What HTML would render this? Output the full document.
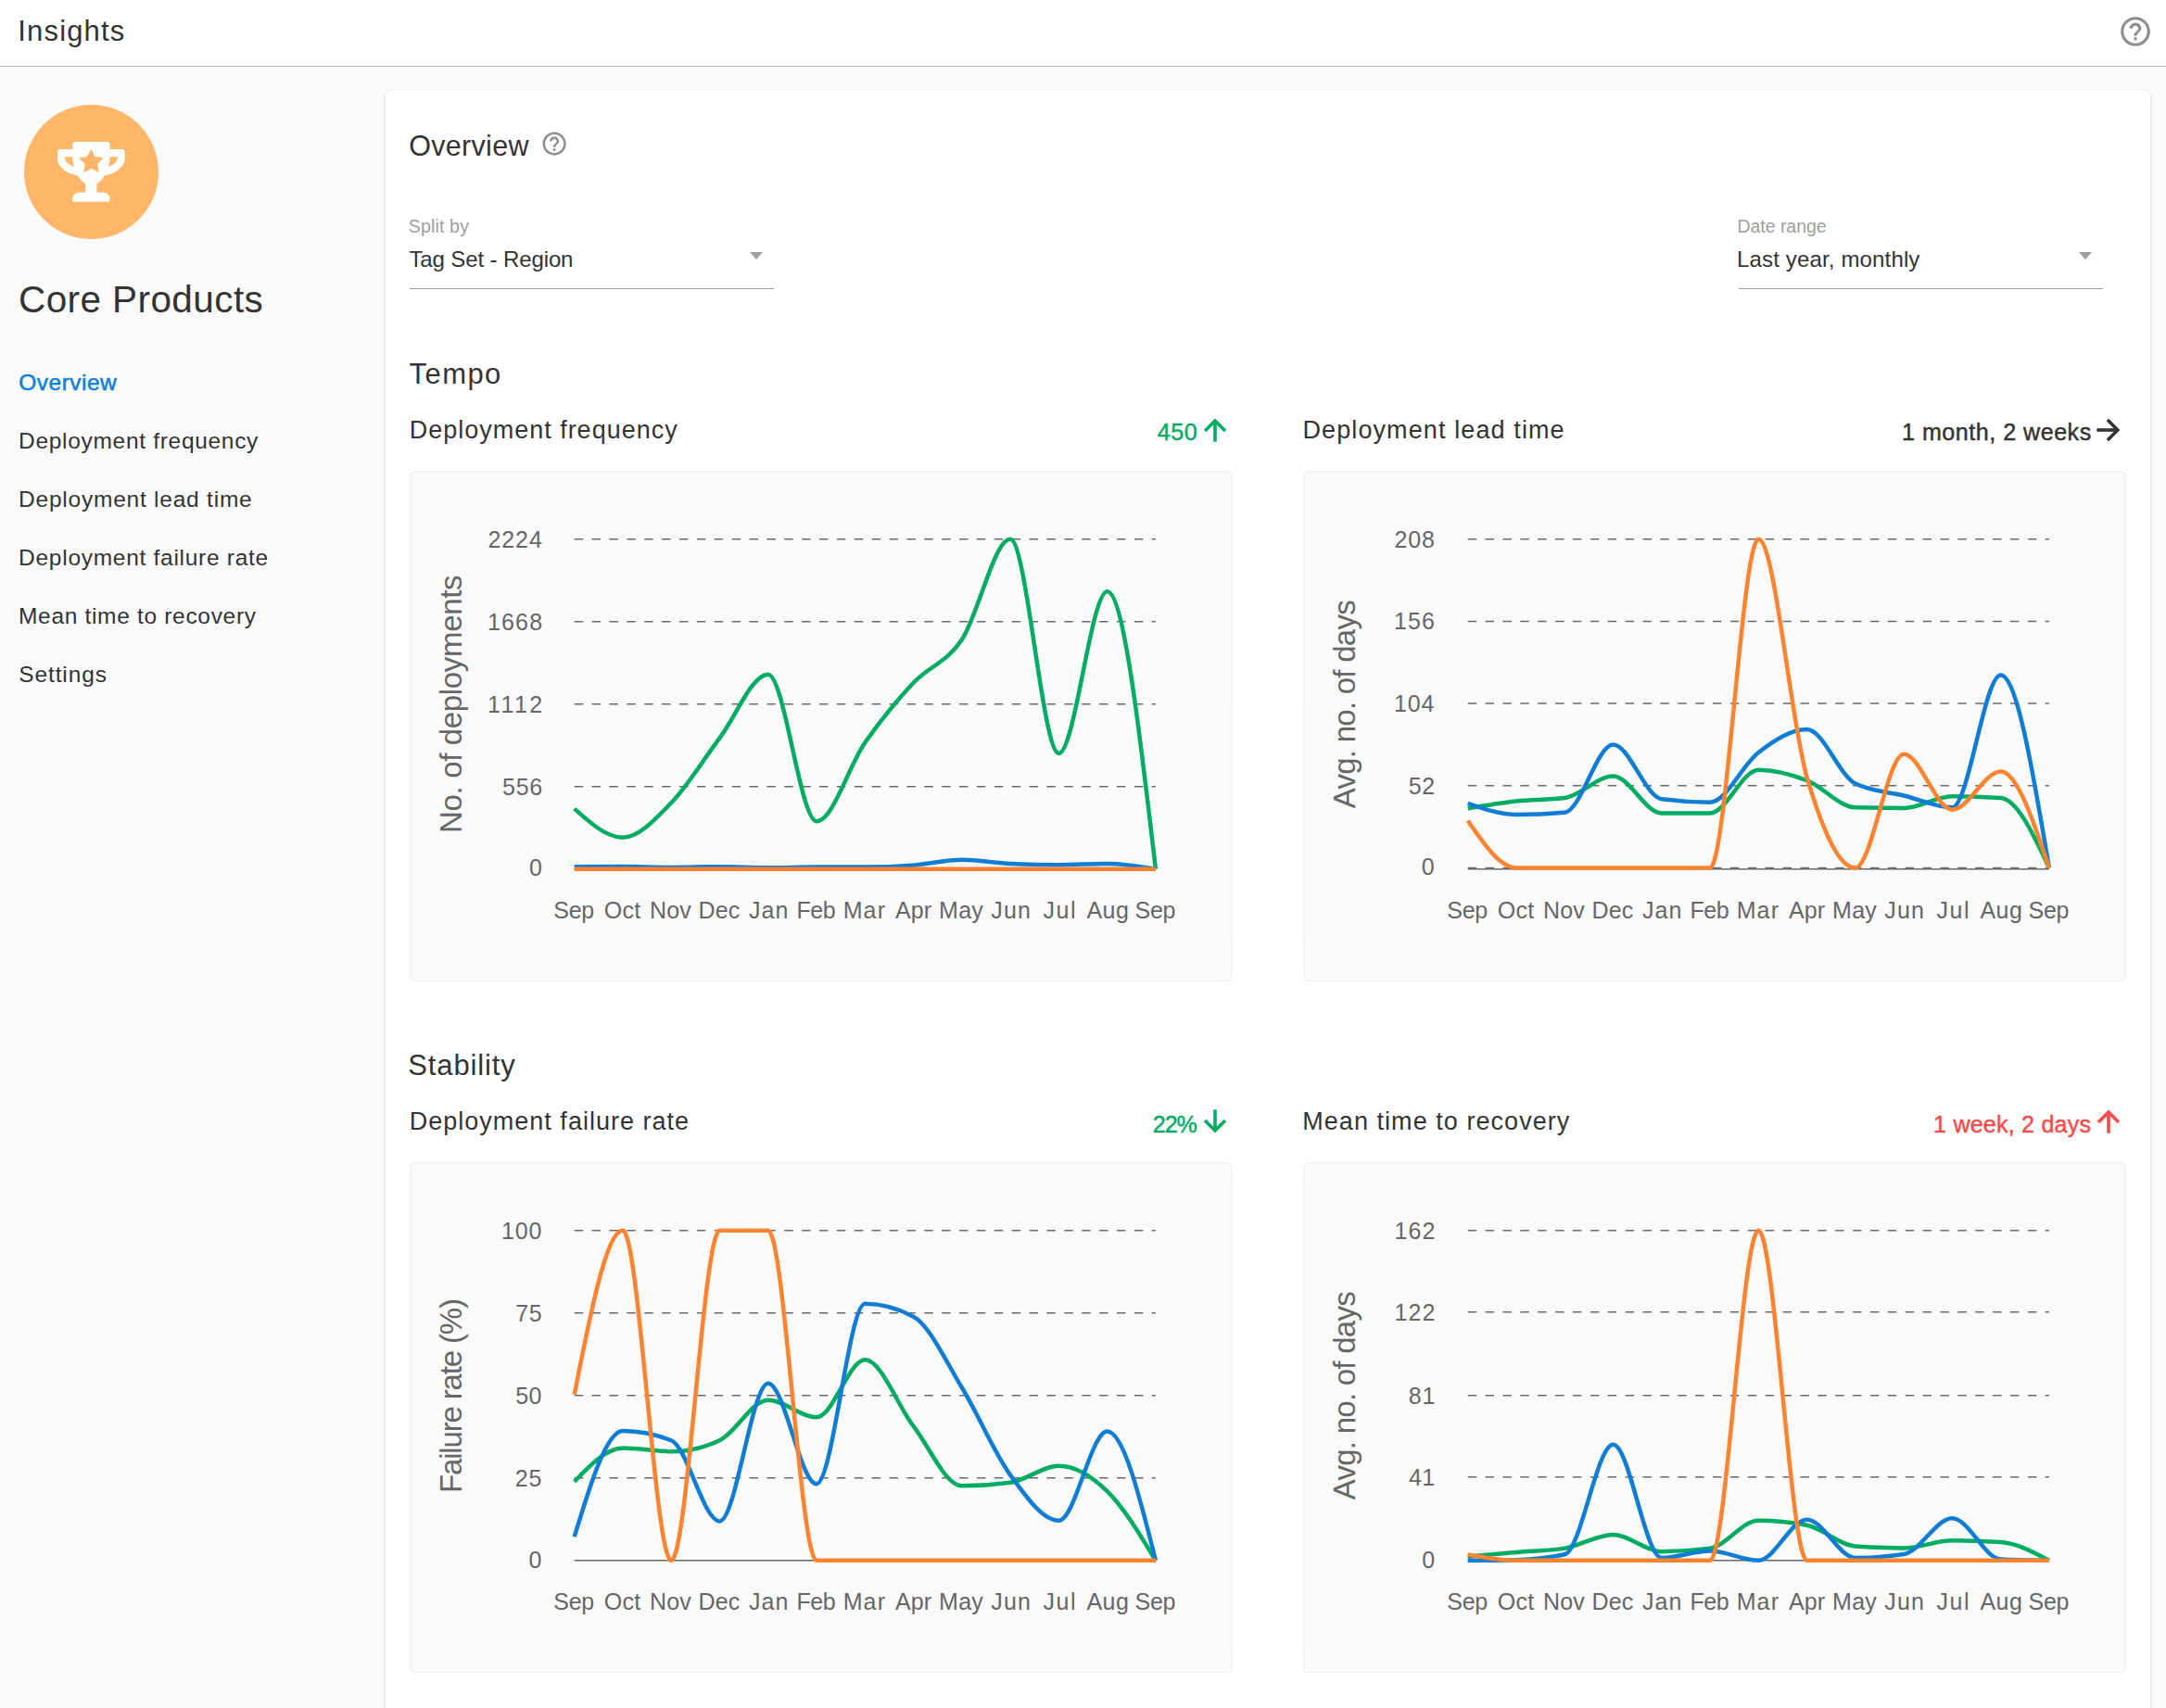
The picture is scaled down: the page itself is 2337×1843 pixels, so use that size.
<!DOCTYPE html>
<html lang="en">
<head>
<meta charset="utf-8">
<title>Insights - Core Products</title>
<style>

html,body{margin:0;padding:0;}
body{width:2337px;height:1843px;overflow:hidden;background:#fafafa;font-family:"Liberation Sans", sans-serif;position:relative;color:#333;}
.abs{position:absolute;}
.t{position:absolute;white-space:nowrap;margin:0;padding:0;font-weight:400;display:block;}
.header{position:absolute;left:0;top:0;width:2337px;height:71px;background:#fff;border-bottom:1.5px solid #bcbcbc;}
.avatar{position:absolute;left:25.7px;top:112.9px;width:145px;height:145px;border-radius:50%;background:#ffb668;}
.panel{position:absolute;left:416px;top:97px;width:1904px;height:1800px;background:#fff;border-radius:6px;
  box-shadow:0 1.5px 4.5px rgba(0,0,0,.13),0 1.5px 1.5px rgba(0,0,0,.07);}
.card{position:absolute;width:888px;height:551px;box-sizing:border-box;background:#fafafa;border-radius:6px;
  box-shadow:inset 0 0 0 1.5px #f1f1f1;}
.card svg.chart{position:absolute;left:0;top:0;}
.uline{position:absolute;height:1px;background:#9c9c9c;}
.caret{position:absolute;width:0;height:0;border-left:7.5px solid transparent;border-right:7.5px solid transparent;border-top:8px solid #9e9e9e;}
a.t{text-decoration:none;}

</style>
</head>
<body>
<header>
<div class="header"></div>
<h1 class="t" id="h-title" style="left:19.27px;top:18.25px;font-size:31px;line-height:31px;color:#333;letter-spacing:1.17px;">Insights</h1>
<svg class="abs" style="left:2284.98px;top:14.78px" width="38.04" height="38.04" viewBox="0 0 24 24"><path fill="#8e8e8e" d="M11 18h2v-2h-2v2zm1-16C6.48 2 2 6.48 2 12s4.48 10 10 10 10-4.48 10-10S17.52 2 12 2zm0 18c-4.41 0-8-3.59-8-8s3.59-8 8-8 8 3.59 8 8-3.59 8-8 8zm0-14c-2.21 0-4 1.79-4 4h2c0-1.1.9-2 2-2s2 .9 2 2c0 2-3 1.75-3 5h2c0-2.25 3-2.5 3-5 0-2.21-1.79-4-4-4z"/></svg>
</header>
<aside>
<div class="avatar"></div>
<svg class="abs" style="left:62.1px;top:152.9px" width="72.7" height="64.7" viewBox="0 0 576 512"><path fill="#fff" d="M552 64H448V24c0-13.3-10.7-24-24-24H152c-13.3 0-24 10.7-24 24v40H24C10.7 64 0 74.7 0 88v56c0 35.700 22.500 72.400 61.900 100.700 31.500 22.700 69.800 37.100 110 41.700C203.300 338.500 240 360 240 360v72h-48c-35.300 0-64 20.700-64 56v12c0 6.600 5.400 12 12 12h296c6.600 0 12-5.400 12-12v-12c0-35.300-28.700-56-64-56h-48v-72s36.700-21.500 68.100-73.600c40.300-4.600 78.600-19 110-41.700c39.300-28.300 61.900-65 61.900-100.700V88c0-13.300-10.700-24-24-24zM99.300 192.800C74.900 175.200 64 155.600 64 144v-16h64.200c1 32.600 5.800 61.200 12.800 86.200-15.100-5.200-29.200-12.400-41.700-21.400zM512 144c0 16.100-17.700 36.100-35.300 48.800-12.500 9-26.700 16.200-41.800 21.400c7-25 11.800-53.600 12.800-86.200H512v16z"/><polygon fill="#ffb668" stroke="#ffb668" stroke-width="10" stroke-linejoin="round" points="288,72 317.98,130.74 383.11,141.1 336.5,187.76 346.78,252.9 288,223 229.22,252.9 239.5,187.76 192.89,141.1 258.02,130.74"/></svg>
<h2 class="t" id="s-title" style="left:20.02px;top:303.21px;font-size:40.5px;line-height:40.5px;color:#333;letter-spacing:0.41px;">Core Products</h2>
<nav>
<a class="t" id="n0" href="#overview" style="left:20.31px;top:400.96px;font-size:24.5px;line-height:24.5px;color:#0d80d8;letter-spacing:0.47px;-webkit-text-stroke:0.55px #0d80d8;">Overview</a>
<a class="t" id="n1" href="#frequency" style="left:20.11px;top:464.26px;font-size:24.5px;line-height:24.5px;color:#333;letter-spacing:0.69px;">Deployment frequency</a>
<a class="t" id="n2" href="#leadtime" style="left:20.11px;top:527.26px;font-size:24.5px;line-height:24.5px;color:#333;letter-spacing:0.77px;">Deployment lead time</a>
<a class="t" id="n3" href="#failurerate" style="left:20.11px;top:590.16px;font-size:24.5px;line-height:24.5px;color:#333;letter-spacing:0.72px;">Deployment failure rate</a>
<a class="t" id="n4" href="#recovery" style="left:20.01px;top:653.16px;font-size:24.5px;line-height:24.5px;color:#333;letter-spacing:0.68px;">Mean time to recovery</a>
<a class="t" id="n5" href="#settings" style="left:20.21px;top:715.76px;font-size:24.5px;line-height:24.5px;color:#333;letter-spacing:0.89px;">Settings</a>
</nav>
</aside>
<main>
<div class="panel"></div>
<h2 class="t" id="p-title" style="left:441.22px;top:141.68px;font-size:30.5px;line-height:30.5px;color:#333;letter-spacing:0.3px;">Overview</h2>
<svg class="abs" style="left:582.88px;top:139.58px" width="30.24" height="30.24" viewBox="0 0 24 24"><path fill="#8e8e8e" d="M11 18h2v-2h-2v2zm1-16C6.48 2 2 6.48 2 12s4.48 10 10 10 10-4.48 10-10S17.52 2 12 2zm0 18c-4.41 0-8-3.59-8-8s3.59-8 8-8 8 3.59 8 8-3.59 8-8 8zm0-14c-2.21 0-4 1.79-4 4h2c0-1.1.9-2 2-2s2 .9 2 2c0 2-3 1.75-3 5h2c0-2.25 3-2.5 3-5 0-2.21-1.79-4-4-4z"/></svg>
<div class="select">
<label class="t" id="l-split" style="left:440.75px;top:234.89px;font-size:19.5px;line-height:19.5px;color:#9e9e9e;letter-spacing:0.17px;">Split by</label>
<div class="t" id="v-split" style="left:441.49px;top:268.18px;font-size:24px;line-height:24px;color:#333;letter-spacing:-0.12px;">Tag Set - Region</div>
<div class="caret" style="left:809px;top:271.8px"></div>
<div class="uline" style="left:442px;top:311px;width:393px"></div>
</div>
<div class="select">
<label class="t" id="l-date" style="left:1874.5px;top:234.92px;font-size:19.5px;line-height:19.5px;color:#9e9e9e;letter-spacing:-0.04px;">Date range</label>
<div class="t" id="v-date" style="left:1874.06px;top:268.18px;font-size:24px;line-height:24px;color:#333;letter-spacing:0.15px;">Last year, monthly</div>
<div class="caret" style="left:2243.3px;top:271.8px"></div>
<div class="uline" style="left:1876px;top:311px;width:393px"></div>
</div>
<section id="tempo">
<h3 class="t" id="sec1" style="left:441.56px;top:388.25px;font-size:31px;line-height:31px;color:#333;letter-spacing:1.43px;">Tempo</h3>
<article>
<h4 class="t" id="ct1" style="left:441.7px;top:451.24px;font-size:27px;line-height:27px;color:#333;letter-spacing:0.99px;">Deployment frequency</h4>
<span class="t" id="st1" style="left:1248.85px;top:454.25px;font-size:25.1px;line-height:25.1px;color:#00ab62;letter-spacing:0.46px;-webkit-text-stroke:0.45px #00ab62;">450</span>
<svg class="abs" style="left:1291px;top:444.2px" width="40" height="40" viewBox="-20 -20 40 40"><g transform="rotate(0)" fill="none" stroke="#00ab62" stroke-width="3.6" stroke-linejoin="miter"><path d="M0,12.7V-9.9"/><path d="M-11,1.1L0,-9.9L11,1.1"/></g></svg>
<div class="card" style="left:442px;top:508px"><svg class="chart" width="888" height="551" viewBox="0 0 888 551" font-family='&quot;Liberation Sans&quot;, sans-serif'>
<g stroke="#6a6a6a" stroke-width="1.5" stroke-dasharray="9.44 9.44" fill="none">
<line x1="177.7" y1="340.8" x2="804.9" y2="340.8"/>
<line x1="177.7" y1="251.8" x2="804.9" y2="251.8"/>
<line x1="177.7" y1="162.8" x2="804.9" y2="162.8"/>
<line x1="177.7" y1="73.8" x2="804.9" y2="73.8"/>
</g>
<line x1="177.7" y1="429.8" x2="804.9" y2="429.8" stroke="#686868" stroke-width="1.6"/>
<text id="c1-y0" x="142.99" y="437.4" font-size="25" text-anchor="end" fill="#666666">0</text>
<text id="c1-y1" x="143.96" y="349.6" font-size="25" text-anchor="end" fill="#666666" letter-spacing="0.71">556</text>
<text id="c1-y2" x="145.7" y="260.6" font-size="25" text-anchor="end" fill="#666666" letter-spacing="2.45">1112</text>
<text id="c1-y3" x="144.23" y="171.6" font-size="25" text-anchor="end" fill="#666666" letter-spacing="1.16">1668</text>
<text id="c1-y4" x="143.67" y="82.6" font-size="25" text-anchor="end" fill="#666666" letter-spacing="0.86">2224</text>
<text id="c1-x0" x="177.14" y="483.2" font-size="25" text-anchor="middle" fill="#666666" letter-spacing="-0.3">Sep</text>
<text id="c1-x1" x="229.6" y="483.2" font-size="25" text-anchor="middle" fill="#666666" letter-spacing="0.29">Oct</text>
<text id="c1-x2" x="281.44" y="483.2" font-size="25" text-anchor="middle" fill="#666666" letter-spacing="0.16">Nov</text>
<text id="c1-x3" x="333.92" y="483.2" font-size="25" text-anchor="middle" fill="#666666" letter-spacing="0.17">Dec</text>
<text id="c1-x4" x="387.76" y="483.2" font-size="25" text-anchor="middle" fill="#666666" letter-spacing="1.08">Jan</text>
<text id="c1-x5" x="438.32" y="483.2" font-size="25" text-anchor="middle" fill="#666666" letter-spacing="-0.41">Feb</text>
<text id="c1-x6" x="490.89" y="483.2" font-size="25" text-anchor="middle" fill="#666666" letter-spacing="1.11">Mar</text>
<text id="c1-x7" x="543.63" y="483.2" font-size="25" text-anchor="middle" fill="#666666" letter-spacing="0.15">Apr</text>
<text id="c1-x8" x="595.11" y="483.2" font-size="25" text-anchor="middle" fill="#666666" letter-spacing="0.3">May</text>
<text id="c1-x9" x="649.22" y="483.2" font-size="25" text-anchor="middle" fill="#666666" letter-spacing="1.26">Jun</text>
<text id="c1-x10" x="701.77" y="483.2" font-size="25" text-anchor="middle" fill="#666666" letter-spacing="1.58">Jul</text>
<text id="c1-x11" x="753.35" y="483.2" font-size="25" text-anchor="middle" fill="#666666" letter-spacing="0.45">Aug</text>
<text id="c1-x12" x="804.38" y="483.2" font-size="25" text-anchor="middle" fill="#666666" letter-spacing="-0.31">Sep</text>
<g transform="translate(55.8 251.92) rotate(-90)"><text id="c1-yt" x="0" y="0" font-size="33" text-anchor="middle" fill="#666666" letter-spacing="-0.34">No. of deployments</text></g>
<path d="M177.7,364.65C195.12,380.18,212.54,395.7,229.97,395.7C247.39,395.7,264.81,376.15,282.23,358.25C299.66,340.35,317.08,311.4,334.5,288.3C351.92,265.19,369.34,219.63,386.77,219.63C404.19,219.63,421.61,378.26,439.03,378.26C456.46,378.26,473.88,318.18,491.3,293.26C508.72,268.34,526.14,247.26,543.57,228.75C560.99,210.23,578.41,207.99,595.83,182.17C613.26,156.34,630.68,73.8,648.1,73.8C665.52,73.8,682.94,304.94,700.37,304.94C717.79,304.94,735.21,130.15,752.63,130.15C770.06,130.15,787.48,279.97,804.9,429.8" fill="none" stroke="#00ab62" stroke-width="4.5"/>
<path d="M177.7,427.24C195.12,427.08,212.54,426.92,229.97,426.92C247.39,426.92,264.81,427.88,282.23,427.88C299.66,427.88,317.08,427.24,334.5,427.24C351.92,427.24,369.34,428.2,386.77,428.2C404.19,428.2,421.61,427.56,439.03,427.56C456.46,427.56,473.88,427.56,491.3,427.56C508.72,427.56,526.14,426.92,543.57,425.64C560.99,424.36,578.41,419.72,595.83,419.72C613.26,419.72,630.68,423.02,648.1,423.88C665.52,424.73,682.94,425.16,700.37,425.16C717.79,425.16,735.21,423.88,752.63,423.88C770.06,423.88,787.48,426.84,804.9,429.8" fill="none" stroke="#0f7dd6" stroke-width="4.5"/>
<path d="M177.7,429.8C195.12,429.8,212.54,429.8,229.97,429.8C247.39,429.8,264.81,429.8,282.23,429.8C299.66,429.8,317.08,429.8,334.5,429.8C351.92,429.8,369.34,429.8,386.77,429.8C404.19,429.8,421.61,429.8,439.03,429.8C456.46,429.8,473.88,429.8,491.3,429.8C508.72,429.8,526.14,429.8,543.57,429.8C560.99,429.8,578.41,429.8,595.83,429.8C613.26,429.8,630.68,429.8,648.1,429.8C665.52,429.8,682.94,429.8,700.37,429.8C717.79,429.8,735.21,429.8,752.63,429.8C770.06,429.8,787.48,429.8,804.9,429.8" fill="none" stroke="#ff832e" stroke-width="4.5"/>
</svg></div>
</article>
<article>
<h4 class="t" id="ct2" style="left:1405.41px;top:451.24px;font-size:27px;line-height:27px;color:#333;letter-spacing:1.11px;">Deployment lead time</h4>
<span class="t" id="st2" style="left:2052.04px;top:453.85px;font-size:25.1px;line-height:25.1px;color:#333;letter-spacing:0.5px;-webkit-text-stroke:0.45px #333;">1 month, 2 weeks</span>
<svg class="abs" style="left:2255.3px;top:444.2px" width="40" height="40" viewBox="-20 -20 40 40"><g transform="rotate(90)" fill="none" stroke="#333" stroke-width="3.6" stroke-linejoin="miter"><path d="M0,12.7V-9.9"/><path d="M-11,1.1L0,-9.9L11,1.1"/></g></svg>
<div class="card" style="left:1406px;top:508px"><svg class="chart" width="888" height="551" viewBox="0 0 888 551" font-family='&quot;Liberation Sans&quot;, sans-serif'>
<g stroke="#6a6a6a" stroke-width="1.5" stroke-dasharray="9.44 9.44" fill="none">
<line x1="177.7" y1="428.4" x2="804.9" y2="428.4"/>
<line x1="177.7" y1="339.75" x2="804.9" y2="339.75"/>
<line x1="177.7" y1="251.1" x2="804.9" y2="251.1"/>
<line x1="177.7" y1="162.45" x2="804.9" y2="162.45"/>
<line x1="177.7" y1="73.8" x2="804.9" y2="73.8"/>
</g>
<line x1="177.7" y1="429.8" x2="804.9" y2="429.8" stroke="#686868" stroke-width="1.6"/>
<text id="c2-y0" x="141.64" y="436.2" font-size="25" text-anchor="end" fill="#666666">0</text>
<text id="c2-y1" x="142.92" y="348.55" font-size="25" text-anchor="end" fill="#666666" letter-spacing="0.72">52</text>
<text id="c2-y2" x="142.37" y="259.9" font-size="25" text-anchor="end" fill="#666666" letter-spacing="0.89">104</text>
<text id="c2-y3" x="142.84" y="171.25" font-size="25" text-anchor="end" fill="#666666" letter-spacing="1.02">156</text>
<text id="c2-y4" x="142.59" y="82.6" font-size="25" text-anchor="end" fill="#666666" letter-spacing="0.76">208</text>
<text id="c2-x0" x="177.14" y="483.2" font-size="25" text-anchor="middle" fill="#666666" letter-spacing="-0.3">Sep</text>
<text id="c2-x1" x="229.6" y="483.2" font-size="25" text-anchor="middle" fill="#666666" letter-spacing="0.29">Oct</text>
<text id="c2-x2" x="281.44" y="483.2" font-size="25" text-anchor="middle" fill="#666666" letter-spacing="0.16">Nov</text>
<text id="c2-x3" x="333.92" y="483.2" font-size="25" text-anchor="middle" fill="#666666" letter-spacing="0.17">Dec</text>
<text id="c2-x4" x="387.76" y="483.2" font-size="25" text-anchor="middle" fill="#666666" letter-spacing="1.08">Jan</text>
<text id="c2-x5" x="438.32" y="483.2" font-size="25" text-anchor="middle" fill="#666666" letter-spacing="-0.41">Feb</text>
<text id="c2-x6" x="490.89" y="483.2" font-size="25" text-anchor="middle" fill="#666666" letter-spacing="1.11">Mar</text>
<text id="c2-x7" x="543.63" y="483.2" font-size="25" text-anchor="middle" fill="#666666" letter-spacing="0.15">Apr</text>
<text id="c2-x8" x="595.11" y="483.2" font-size="25" text-anchor="middle" fill="#666666" letter-spacing="0.3">May</text>
<text id="c2-x9" x="649.22" y="483.2" font-size="25" text-anchor="middle" fill="#666666" letter-spacing="1.26">Jun</text>
<text id="c2-x10" x="701.77" y="483.2" font-size="25" text-anchor="middle" fill="#666666" letter-spacing="1.58">Jul</text>
<text id="c2-x11" x="753.35" y="483.2" font-size="25" text-anchor="middle" fill="#666666" letter-spacing="0.45">Aug</text>
<text id="c2-x12" x="804.38" y="483.2" font-size="25" text-anchor="middle" fill="#666666" letter-spacing="-0.31">Sep</text>
<g transform="translate(55.8 252.14) rotate(-90)"><text id="c2-yt" x="0" y="0" font-size="33" text-anchor="middle" fill="#666666" letter-spacing="-0.74">Avg. no. of days</text></g>
<path d="M177.7,364.3C195.12,361.32,212.54,358.33,229.97,356.46C247.39,354.58,264.81,355.32,282.23,353.05C299.66,350.77,317.08,329.52,334.5,329.52C351.92,329.52,369.34,369.41,386.77,369.41C404.19,369.41,421.61,369.41,439.03,369.41C456.46,369.41,473.88,322.7,491.3,322.7C508.72,322.7,526.14,327.36,543.57,334.12C560.99,340.89,578.41,362.82,595.83,363.28C613.26,363.73,630.68,363.96,648.1,363.96C665.52,363.96,682.94,351.17,700.37,351.17C717.79,351.17,735.21,351.74,752.63,352.88C770.06,354.01,787.48,391.21,804.9,428.4" fill="none" stroke="#00ab62" stroke-width="4.5"/>
<path d="M177.7,358.84C195.12,364.9,212.54,370.95,229.97,370.95C247.39,370.95,264.81,370.21,282.23,368.73C299.66,367.25,317.08,295.6,334.5,295.6C351.92,295.6,369.34,351.97,386.77,354.24C404.19,356.51,421.61,357.65,439.03,357.65C456.46,357.65,473.88,317.05,491.3,303.95C508.72,290.85,526.14,279.06,543.57,279.06C560.99,279.06,578.41,328.9,595.83,337.53C613.26,346.17,630.68,346.2,648.1,350.49C665.52,354.78,682.94,363.28,700.37,363.28C717.79,363.28,735.21,220.41,752.63,220.41C770.06,220.41,787.48,324.41,804.9,428.4" fill="none" stroke="#0f7dd6" stroke-width="4.5"/>
<path d="M177.7,377.6C195.12,403,212.54,428.4,229.97,428.4C247.39,428.4,264.81,428.4,282.23,428.4C299.66,428.4,317.08,428.4,334.5,428.4C351.92,428.4,369.34,428.4,386.77,428.4C404.19,428.4,421.61,428.4,439.03,428.4C456.46,428.4,473.88,73.8,491.3,73.8C508.72,73.8,526.14,271.44,543.57,330.54C560.99,389.64,578.41,428.4,595.83,428.4C613.26,428.4,630.68,305.65,648.1,305.65C665.52,305.65,682.94,365.66,700.37,365.66C717.79,365.66,735.21,324.41,752.63,324.41C770.06,324.41,787.48,376.4,804.9,428.4" fill="none" stroke="#ff832e" stroke-width="4.5"/>
</svg></div>
</article>
</section>
<section id="stability">
<h3 class="t" id="sec2" style="left:440.26px;top:1133.75px;font-size:31px;line-height:31px;color:#333;letter-spacing:0.88px;">Stability</h3>
<article>
<h4 class="t" id="ct3" style="left:441.7px;top:1197.24px;font-size:27px;line-height:27px;color:#333;letter-spacing:1.01px;">Deployment failure rate</h4>
<span class="t" id="st3" style="left:1243.84px;top:1201.27px;font-size:25.1px;line-height:25.1px;color:#00ab62;letter-spacing:-1.14px;-webkit-text-stroke:0.45px #00ab62;">22%</span>
<svg class="abs" style="left:1291px;top:1189.7px" width="40" height="40" viewBox="-20 -20 40 40"><g transform="rotate(180)" fill="none" stroke="#00ab62" stroke-width="3.6" stroke-linejoin="miter"><path d="M0,12.7V-9.9"/><path d="M-11,1.1L0,-9.9L11,1.1"/></g></svg>
<div class="card" style="left:442px;top:1254.1px"><svg class="chart" width="888" height="551" viewBox="0 0 888 551" font-family='&quot;Liberation Sans&quot;, sans-serif'>
<g stroke="#6a6a6a" stroke-width="1.5" stroke-dasharray="9.44 9.44" fill="none">
<line x1="177.7" y1="340.8" x2="804.9" y2="340.8"/>
<line x1="177.7" y1="251.8" x2="804.9" y2="251.8"/>
<line x1="177.7" y1="162.8" x2="804.9" y2="162.8"/>
<line x1="177.7" y1="73.8" x2="804.9" y2="73.8"/>
</g>
<line x1="177.7" y1="429.8" x2="804.9" y2="429.8" stroke="#686868" stroke-width="1.6"/>
<text id="c3-y0" x="142.42" y="438.1" font-size="25" text-anchor="end" fill="#666666">0</text>
<text id="c3-y1" x="142.96" y="349.6" font-size="25" text-anchor="end" fill="#666666" letter-spacing="0.66">25</text>
<text id="c3-y2" x="142.82" y="260.6" font-size="25" text-anchor="end" fill="#666666" letter-spacing="0.4">50</text>
<text id="c3-y3" x="142.96" y="171.6" font-size="25" text-anchor="end" fill="#666666" letter-spacing="0.41">75</text>
<text id="c3-y4" x="143.42" y="82.6" font-size="25" text-anchor="end" fill="#666666" letter-spacing="0.93">100</text>
<text id="c3-x0" x="177.14" y="483.2" font-size="25" text-anchor="middle" fill="#666666" letter-spacing="-0.3">Sep</text>
<text id="c3-x1" x="229.6" y="483.2" font-size="25" text-anchor="middle" fill="#666666" letter-spacing="0.29">Oct</text>
<text id="c3-x2" x="281.44" y="483.2" font-size="25" text-anchor="middle" fill="#666666" letter-spacing="0.16">Nov</text>
<text id="c3-x3" x="333.92" y="483.2" font-size="25" text-anchor="middle" fill="#666666" letter-spacing="0.17">Dec</text>
<text id="c3-x4" x="387.76" y="483.2" font-size="25" text-anchor="middle" fill="#666666" letter-spacing="1.08">Jan</text>
<text id="c3-x5" x="438.32" y="483.2" font-size="25" text-anchor="middle" fill="#666666" letter-spacing="-0.41">Feb</text>
<text id="c3-x6" x="490.89" y="483.2" font-size="25" text-anchor="middle" fill="#666666" letter-spacing="1.11">Mar</text>
<text id="c3-x7" x="543.63" y="483.2" font-size="25" text-anchor="middle" fill="#666666" letter-spacing="0.15">Apr</text>
<text id="c3-x8" x="595.11" y="483.2" font-size="25" text-anchor="middle" fill="#666666" letter-spacing="0.3">May</text>
<text id="c3-x9" x="649.22" y="483.2" font-size="25" text-anchor="middle" fill="#666666" letter-spacing="1.26">Jun</text>
<text id="c3-x10" x="701.77" y="483.2" font-size="25" text-anchor="middle" fill="#666666" letter-spacing="1.58">Jul</text>
<text id="c3-x11" x="753.35" y="483.2" font-size="25" text-anchor="middle" fill="#666666" letter-spacing="0.45">Aug</text>
<text id="c3-x12" x="804.38" y="483.2" font-size="25" text-anchor="middle" fill="#666666" letter-spacing="-0.31">Sep</text>
<g transform="translate(55.8 252.6) rotate(-90)"><text id="c3-yt" x="0" y="0" font-size="33" text-anchor="middle" fill="#666666" letter-spacing="-1.16">Failure rate (%)</text></g>
<path d="M177.7,344.72C195.12,326.56,212.54,308.4,229.97,308.4C247.39,308.4,264.81,312.32,282.23,312.32C299.66,312.32,317.08,308.29,334.5,300.22C351.92,292.15,369.34,256.78,386.77,256.78C404.19,256.78,421.61,275.3,439.03,275.3C456.46,275.3,473.88,213.35,491.3,213.35C508.72,213.35,526.14,262.24,543.57,284.91C560.99,307.57,578.41,349.34,595.83,349.34C613.26,349.34,630.68,348.16,648.1,345.78C665.52,343.41,682.94,327.63,700.37,327.63C717.79,327.63,735.21,338.01,752.63,355.04C770.06,372.07,787.48,400.93,804.9,429.8" fill="none" stroke="#00ab62" stroke-width="4.5"/>
<path d="M177.7,404.17C195.12,347.03,212.54,289.89,229.97,289.89C247.39,289.89,264.81,293.33,282.23,300.22C299.66,307.1,317.08,387.44,334.5,387.44C351.92,387.44,369.34,238.63,386.77,238.63C404.19,238.63,421.61,347.21,439.03,347.21C456.46,347.21,473.88,152.83,491.3,152.83C508.72,152.83,526.14,157.46,543.57,166.72C560.99,175.97,578.41,214.78,595.83,243.26C613.26,271.74,630.68,313.68,648.1,337.6C665.52,361.51,682.94,386.72,700.37,386.72C717.79,386.72,735.21,290.6,752.63,290.6C770.06,290.6,787.48,360.2,804.9,429.8" fill="none" stroke="#0f7dd6" stroke-width="4.5"/>
<path d="M177.7,250.73C195.12,162.27,212.54,73.8,229.97,73.8C247.39,73.8,264.81,429.8,282.23,429.8C299.66,429.8,317.08,73.8,334.5,73.8C351.92,73.8,369.34,73.8,386.77,73.8C404.19,73.8,421.61,429.8,439.03,429.8C456.46,429.8,473.88,429.8,491.3,429.8C508.72,429.8,526.14,429.8,543.57,429.8C560.99,429.8,578.41,429.8,595.83,429.8C613.26,429.8,630.68,429.8,648.1,429.8C665.52,429.8,682.94,429.8,700.37,429.8C717.79,429.8,735.21,429.8,752.63,429.8C770.06,429.8,787.48,429.8,804.9,429.8" fill="none" stroke="#ff832e" stroke-width="4.5"/>
</svg></div>
</article>
<article>
<h4 class="t" id="ct4" style="left:1405.21px;top:1197.24px;font-size:27px;line-height:27px;color:#333;letter-spacing:1.05px;">Mean time to recovery</h4>
<span class="t" id="st4" style="left:2086.07px;top:1200.85px;font-size:25.1px;line-height:25.1px;color:#fb4a4a;letter-spacing:0.2px;-webkit-text-stroke:0.45px #fb4a4a;">1 week, 2 days</span>
<svg class="abs" style="left:2255.3px;top:1189.7px" width="40" height="40" viewBox="-20 -20 40 40"><g transform="rotate(0)" fill="none" stroke="#fb4a4a" stroke-width="3.6" stroke-linejoin="miter"><path d="M0,12.7V-9.9"/><path d="M-11,1.1L0,-9.9L11,1.1"/></g></svg>
<div class="card" style="left:1406px;top:1254.1px"><svg class="chart" width="888" height="551" viewBox="0 0 888 551" font-family='&quot;Liberation Sans&quot;, sans-serif'>
<g stroke="#6a6a6a" stroke-width="1.5" stroke-dasharray="9.44 9.44" fill="none">
<line x1="177.7" y1="339.7" x2="804.9" y2="339.7"/>
<line x1="177.7" y1="251.8" x2="804.9" y2="251.8"/>
<line x1="177.7" y1="161.7" x2="804.9" y2="161.7"/>
<line x1="177.7" y1="73.8" x2="804.9" y2="73.8"/>
</g>
<line x1="177.7" y1="429.8" x2="804.9" y2="429.8" stroke="#686868" stroke-width="1.6"/>
<text id="c4-y0" x="142.11" y="438.1" font-size="25" text-anchor="end" fill="#666666">0</text>
<text id="c4-y1" x="142.28" y="348.5" font-size="25" text-anchor="end" fill="#666666" letter-spacing="0.22">41</text>
<text id="c4-y2" x="143.09" y="260.6" font-size="25" text-anchor="end" fill="#666666" letter-spacing="0.71">81</text>
<text id="c4-y3" x="143.68" y="170.5" font-size="25" text-anchor="end" fill="#666666" letter-spacing="1.15">122</text>
<text id="c4-y4" x="143.68" y="82.6" font-size="25" text-anchor="end" fill="#666666" letter-spacing="1.15">162</text>
<text id="c4-x0" x="177.14" y="483.2" font-size="25" text-anchor="middle" fill="#666666" letter-spacing="-0.3">Sep</text>
<text id="c4-x1" x="229.6" y="483.2" font-size="25" text-anchor="middle" fill="#666666" letter-spacing="0.29">Oct</text>
<text id="c4-x2" x="281.44" y="483.2" font-size="25" text-anchor="middle" fill="#666666" letter-spacing="0.16">Nov</text>
<text id="c4-x3" x="333.92" y="483.2" font-size="25" text-anchor="middle" fill="#666666" letter-spacing="0.17">Dec</text>
<text id="c4-x4" x="387.76" y="483.2" font-size="25" text-anchor="middle" fill="#666666" letter-spacing="1.08">Jan</text>
<text id="c4-x5" x="438.32" y="483.2" font-size="25" text-anchor="middle" fill="#666666" letter-spacing="-0.41">Feb</text>
<text id="c4-x6" x="490.89" y="483.2" font-size="25" text-anchor="middle" fill="#666666" letter-spacing="1.11">Mar</text>
<text id="c4-x7" x="543.63" y="483.2" font-size="25" text-anchor="middle" fill="#666666" letter-spacing="0.15">Apr</text>
<text id="c4-x8" x="595.11" y="483.2" font-size="25" text-anchor="middle" fill="#666666" letter-spacing="0.3">May</text>
<text id="c4-x9" x="649.22" y="483.2" font-size="25" text-anchor="middle" fill="#666666" letter-spacing="1.26">Jun</text>
<text id="c4-x10" x="701.77" y="483.2" font-size="25" text-anchor="middle" fill="#666666" letter-spacing="1.58">Jul</text>
<text id="c4-x11" x="753.35" y="483.2" font-size="25" text-anchor="middle" fill="#666666" letter-spacing="0.45">Aug</text>
<text id="c4-x12" x="804.38" y="483.2" font-size="25" text-anchor="middle" fill="#666666" letter-spacing="-0.31">Sep</text>
<g transform="translate(55.8 252.14) rotate(-90)"><text id="c4-yt" x="0" y="0" font-size="33" text-anchor="middle" fill="#666666" letter-spacing="-0.74">Avg. no. of days</text></g>
<path d="M177.7,425.4C195.12,423.94,212.54,422.47,229.97,421.01C247.39,419.54,264.81,419.54,282.23,416.61C299.66,413.68,317.08,401.89,334.5,401.89C351.92,401.89,369.34,420.13,386.77,420.13C404.19,420.13,421.61,418.96,439.03,416.61C456.46,414.27,473.88,386.73,491.3,386.73C508.72,386.73,526.14,388.41,543.57,391.78C560.99,395.15,578.41,413.1,595.83,414.42C613.26,415.74,630.68,416.4,648.1,416.4C665.52,416.4,682.94,408.26,700.37,408.26C717.79,408.26,735.21,408.85,752.63,410.02C770.06,411.19,787.48,420.5,804.9,429.8" fill="none" stroke="#00ab62" stroke-width="4.5"/>
<path d="M177.7,429.8C195.12,429.69,212.54,429.58,229.97,429.14C247.39,428.7,264.81,427.16,282.23,423.21C299.66,419.25,317.08,304.76,334.5,304.76C351.92,304.76,369.34,426.94,386.77,426.94C404.19,426.94,421.61,419.47,439.03,419.47C456.46,419.47,473.88,429.8,491.3,429.8C508.72,429.8,526.14,385.63,543.57,385.63C560.99,385.63,578.41,426.94,595.83,426.94C613.26,426.94,630.68,425.62,648.1,422.99C665.52,420.35,682.94,384.31,700.37,384.31C717.79,384.31,735.21,427.6,752.63,428.48C770.06,429.36,787.48,429.58,804.9,429.8" fill="none" stroke="#0f7dd6" stroke-width="4.5"/>
<path d="M177.7,423.43C195.12,426.61,212.54,429.8,229.97,429.8C247.39,429.8,264.81,429.8,282.23,429.8C299.66,429.8,317.08,429.8,334.5,429.8C351.92,429.8,369.34,429.8,386.77,429.8C404.19,429.8,421.61,429.8,439.03,429.8C456.46,429.8,473.88,73.8,491.3,73.8C508.72,73.8,526.14,429.8,543.57,429.8C560.99,429.8,578.41,429.8,595.83,429.8C613.26,429.8,630.68,429.8,648.1,429.8C665.52,429.8,682.94,429.8,700.37,429.8C717.79,429.8,735.21,429.8,752.63,429.8C770.06,429.8,787.48,429.8,804.9,429.8" fill="none" stroke="#ff832e" stroke-width="4.5"/>
</svg></div>
</article>
</section>
</main>
</body>
</html>
